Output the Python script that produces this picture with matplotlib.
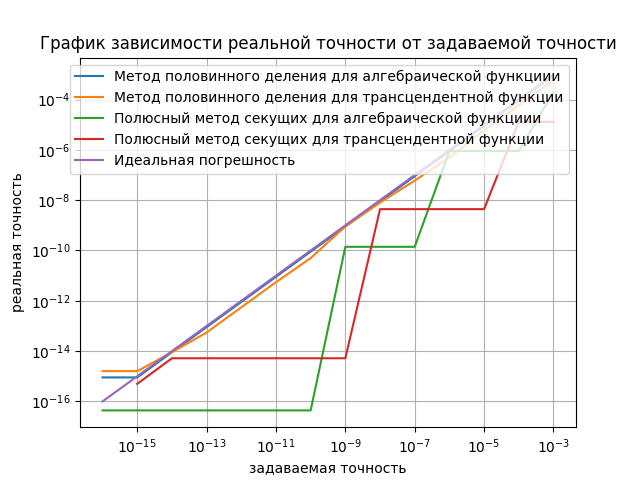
import numpy as np
from matplotlib import pyplot as plt

eps = [1e-16, 1e-15, 1e-14, 1e-13, 1e-12, 1e-11, 1e-10, 1e-9,
       1e-8, 1e-7, 1e-6, 1e-5, 1e-4, 1e-3]

bisect_alg = [9e-16, 9e-16, 9e-15, 9e-14, 9e-13, 9e-12, 9e-11, 9e-10,
              9e-9, 9e-8, 9e-7, 9e-6, 9e-5, 9e-4]
bisect_trans = [1.6e-15, 1.6e-15, 9e-15, 5.5e-14, 5.5e-13, 5.5e-12, 5e-11, 9e-10,
                8e-9, 6e-8, 5e-7, 6e-6, 6e-5, 6e-4]
secant_alg = [4.4e-17, 4.4e-17, 4.4e-17, 4.4e-17, 4.4e-17, 4.4e-17, 4.4e-17, 1.4e-10,
              1.4e-10, 1.4e-10, 9e-7, 9e-7, 9e-7, 2e-4]
# red series starts at 1e-15
eps_red = eps[1:]
secant_trans = [5e-16, 5.2e-15, 5.2e-15, 5.2e-15, 5.2e-15, 5.2e-15, 5.2e-15,
                4.4e-9, 4.4e-9, 4.4e-9, 4.4e-9, 1.3e-5, 1.3e-5]
ideal = eps

plt.figure()
plt.plot(eps, bisect_alg, label='Метод половинного деления для алгебраической функциии')
plt.plot(eps, bisect_trans, label='Метод половинного деления для трансцендентной функции')
plt.plot(eps, secant_alg, label='Полюсный метод секущих для алгебраической функциии')
plt.plot(eps_red, secant_trans, label='Полюсный метод секущих для трансцендентной функции')
plt.plot(eps, ideal, label='Идеальная погрешность')
plt.xscale('log')
plt.yscale('log')
plt.title('График зависимости реальной точности от задаваемой точности')
plt.xlabel('задаваемая точность')
plt.ylabel('реальная точность')
plt.grid()
plt.legend()
plt.savefig('out.png')
